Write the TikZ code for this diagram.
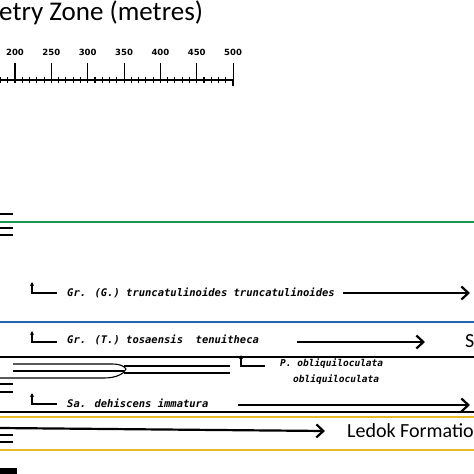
\documentclass[tikz,border=0pt]{standalone}
\usepackage{fontspec}
\setmainfont{Carlito}
\newfontfamily\taxonfont{DejaVu Sans Mono}
\newfontfamily\scalefont{DejaVu Sans}
\usetikzlibrary{arrows.meta,positioning}
\definecolor{ZoneGreen}{RGB}{28,150,78}
\definecolor{ZoneBlue}{RGB}{30,105,175}
\definecolor{ZoneYellow}{RGB}{232,186,40}
\tikzset{
  taxon/.style={font=\taxonfont\bfseries\itshape\fontsize{10.5}{12}\selectfont,
    anchor=west,inner sep=0pt},
  rangearrow/.style={-{Straight Barb[length=7pt,width=13pt]},line width=2.2pt},
  firstocc/.style={{Stealth[length=4pt,width=4pt]}-,line width=1.2pt},
  bound/.style={line width=2.6pt},
  tally/.style={line width=1.4pt},
  lens/.style={line width=1.1pt}
}

\begin{document}
\begin{tikzpicture}[x=1pt,y=-1pt,>=Latex]
  \useasboundingbox (0,0) rectangle (474,474);
  \clip (0,0) rectangle (474,474);
  % title and depth scale
  \node[anchor=base west,inner sep=0pt,font=\fontsize{27}{32}\selectfont]
    (title) at (-1,20) {etry Zone (metres)};
  \draw[line width=1.6pt] (0,80) -- (233,80);
  \foreach \v in {180,190,...,500}
    \draw[line width=1.1pt] ({15+(\v-200)*0.727},77) -- ++(0,6);
  \foreach \v in {200,250,...,500} {
    \draw[line width=1.1pt] ({15+(\v-200)*0.727},80) -- ++(0,-17);
    \node[font=\scalefont\bfseries\fontsize{8.5}{9}\selectfont] (s\v)
      at ({15+(\v-200)*0.727},52) {\v};
  }
  \draw[line width=1.1pt] (233,80) -- ++(0,6);

  % zone boundaries
  \draw[bound,ZoneGreen] (0,222) -- (474,222);
  \draw[bound,ZoneBlue] (0,322) -- (474,322);
  \draw[line width=2pt] (0,357) -- (474,357);
  \draw[line width=2pt] (0,412) -- (474,412);
  \draw[bound,ZoneYellow] (0,417) -- (474,417);
  \draw[bound,ZoneYellow] (0,450) -- (474,450);
  \foreach \y in {214,228,235,384,392,435,442}
    \draw[tally] (0,\y) -- (13,\y);

  % Gr. (G.) truncatulinoides
  \draw[firstocc] (32,282) |- (57,293);
  \node[taxon] (gtr) at (67,293) {Gr. (G.) truncatulinoides truncatulinoides};
  \coordinate (gtrEnd) at (470,293);
  \draw[rangearrow] ([xshift=8pt]gtr.east) -- (gtrEnd);

  % Gr. (T.) tosaensis
  \draw[firstocc] (32,331) |- (57,342);
  \node[taxon] (gts) at (67,340) {Gr. (T.) tosaensis\ \ tenuitheca};
  \coordinate (gtsStart) at (297,342);
  \coordinate (gtsEnd) at (425,342);
  \draw[rangearrow] (gtsStart) -- (gtsEnd);
  \node[anchor=west,inner sep=0pt,font=\fontsize{20}{24}\selectfont]
    (sfm) at (465,341) {S};

  % P. obliquiloculata
  \draw[firstocc] (241,355) |- (265,366);
  \node[taxon,font=\taxonfont\bfseries\itshape\fontsize{9.5}{11}\selectfont]
    (pob) at (280,364) {P. obliquiloculata};
  \node[taxon,font=\taxonfont\bfseries\itshape\fontsize{9.5}{11}\selectfont]
    (pob2) at (293,380) {obliquiloculata};
  \draw[lens] (13,364) -- (112,364) .. controls (120,364) and (124,366) .. (126,369);
  \draw[lens] (13,371) -- (124,371);
  \draw[lens] (0,378) -- (104,378) .. controls (116,378) and (124,374) .. (126,369);
  \draw[lens] (124,366) -- (230,366);
  \draw[lens] (124,373) -- (230,373);

  % Sa. dehiscens
  \draw[firstocc] (32,393) |- (57,404);
  \node[taxon] (sdi) at (67,403) {Sa. dehiscens immatura};
  \coordinate (sdiStart) at (238,405);
  \coordinate (sdiEnd) at (470,405);
  \draw[rangearrow] (sdiStart) -- (sdiEnd);

  % Ledok Formation
  \coordinate (ledStart) at (0,428);
  \node[anchor=west,inner sep=0pt,font=\fontsize{20}{24}\selectfont]
    (led) at (347,431) {Ledok Formation};
  \draw[rangearrow] (ledStart) -- ([xshift=-22pt]led.west);
  \fill (0,468) rectangle (17,474);
\end{tikzpicture}
\end{document}
